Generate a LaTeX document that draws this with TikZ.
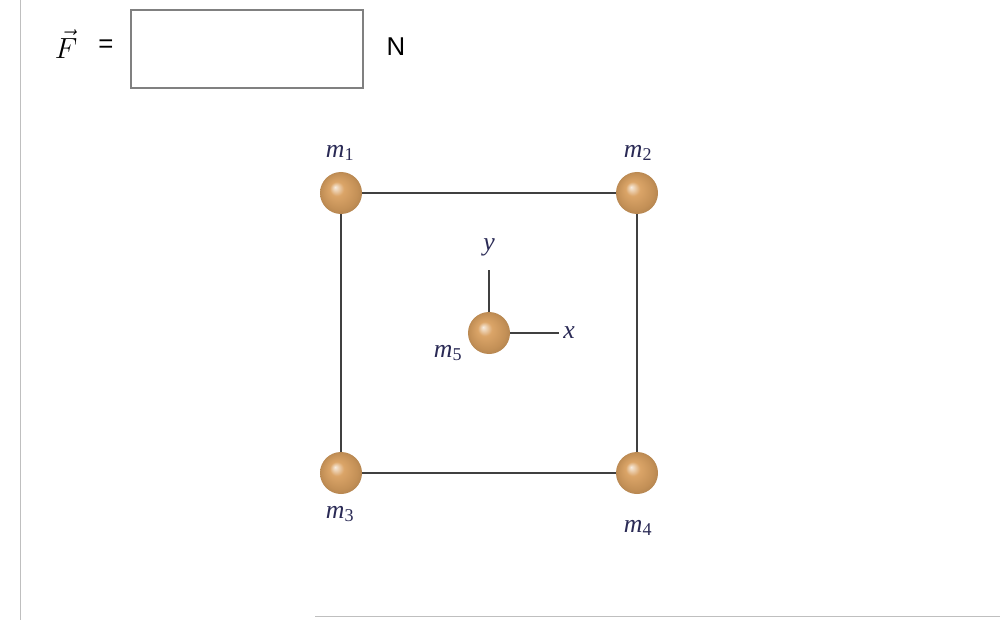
\documentclass[tikz,border=0pt]{standalone}
\usepackage{fontspec}
\setmainfont{Liberation Serif}
\newfontfamily\uisans{Liberation Sans}
\definecolor{ball}{HTML}{D9A060}
\definecolor{lbl}{HTML}{2A2A55}
\pgfdeclareradialshading{myball}{\pgfpoint{-0.25cm}{0.25cm}}{%
  color(0cm)=(white!80!ball);color(0.3cm)=(ball!95!white);color(0.75cm)=(ball!90!black);color(1cm)=(ball!80!black)}
\begin{document}
\begin{tikzpicture}[x=0.03cm,y=-0.03cm,
  sph/.style={circle,minimum size=1.26cm,inner sep=0pt,shading=myball},
  ml/.style={text=lbl,font=\fontsize{22}{24}\selectfont\itshape},
  edge/.style={draw=black!75,line width=0.9pt}]
\useasboundingbox[fill=white] (0,0) rectangle (1000,620);
\draw[black!25,line width=0.8pt] (20,0) -- (20,620);
\draw[black!25,line width=0.8pt] (315,616) -- (1000,616);
\node (F) at (66,44) {\fontsize{24}{26}\selectfont$\vec{F}$};
\node[font=\uisans\fontsize{22}{24}\selectfont] (eq) at (106,46) {=};
\node[draw=black!50,line width=1pt,minimum width=6.96cm,minimum height=2.34cm,inner sep=0pt] (box) at (247,49) {};
\node[font=\uisans\fontsize{22}{24}\selectfont] (N) at (396,47) {N};
\node[sph] (m1) at (341,193) {};
\node[sph] (m2) at (637,193) {};
\node[sph] (m3) at (341,473) {};
\node[sph] (m4) at (637,473) {};
\node[sph] (m5) at (489,333) {};
\draw[edge] (m1) -- (m2);
\draw[edge] (m2) -- (m4);
\draw[edge] (m4) -- (m3);
\draw[edge] (m3) -- (m1);
\node[ml] (l1) at (340,153) {m\textsubscript{\normalfont\upshape 1}};
\node[ml] (l2) at (638,153) {m\textsubscript{\normalfont\upshape 2}};
\node[ml] (l3) at (340,514) {m\textsubscript{\normalfont\upshape 3}};
\node[ml] (l4) at (638,528) {m\textsubscript{\normalfont\upshape 4}};
\node[ml] (l5) at (448,353) {m\textsubscript{\normalfont\upshape 5}};
\node[ml] (y) at (489,247) {y};
\node[ml] (x) at (569,333) {x};
\draw[edge] (m5) -- (489,270);
\draw[edge] (m5.east) -- (x.west |- m5.east);
\end{tikzpicture}
\end{document}
